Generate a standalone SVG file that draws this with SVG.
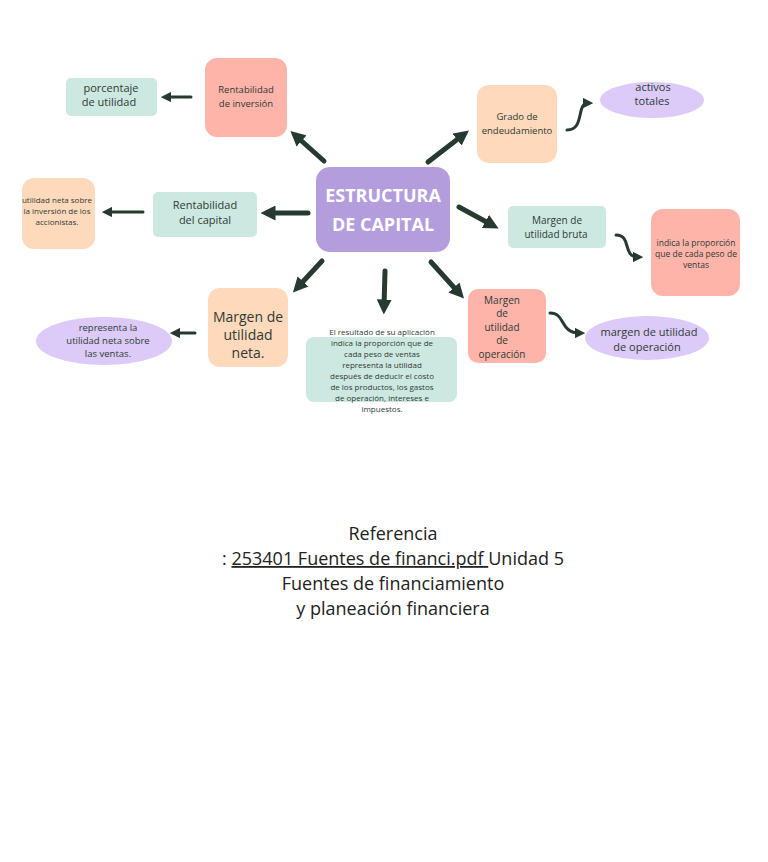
<svg xmlns="http://www.w3.org/2000/svg" width="768" height="862" viewBox="0 0 768 862">
<style>
.t{font-family:"Open Sans","DejaVu Sans",sans-serif;fill:#2e3b35;text-anchor:middle}
.ref{font-family:"Open Sans","DejaVu Sans",sans-serif;fill:#222;font-size:18px;text-anchor:middle}
.c{stroke:#263a30;stroke-width:5;fill:none;stroke-linecap:round}
.s{stroke:#263a30;stroke-width:3;fill:none;stroke-linecap:round}
.g{fill:#cde8e0}.p{fill:#ffb4aa}.o{fill:#ffd9bb}.v{fill:#dccbf8}
</style>
<defs>
<marker id="a" viewBox="0 0 10 10" refX="5" refY="5" markerWidth="3" markerHeight="3" orient="auto"><path d="M0,0L10,5L0,10z" fill="#263a30"/></marker>
<marker id="b" viewBox="0 0 10 10" refX="5" refY="5" markerWidth="3.5" markerHeight="3.5" orient="auto"><path d="M0,0L10,5L0,10z" fill="#263a30"/></marker>
</defs>
<rect width="768" height="862" fill="#fff"/>
<g id="connectors">
<path class="c" d="M324,161L296,136" marker-end="url(#a)"/>
<path class="c" d="M428,162L463,135" marker-end="url(#a)"/>
<path class="c" d="M308,213L268,213" marker-end="url(#a)"/>
<path class="c" d="M459,207L492,225" marker-end="url(#a)"/>
<path class="c" d="M322,261L298,287" marker-end="url(#a)"/>
<path class="c" d="M385,271L384,307" marker-end="url(#a)"/>
<path class="c" d="M431,262L459,293" marker-end="url(#a)"/>
<path class="s" d="M191,97L166,97" marker-end="url(#b)"/>
<path class="s" d="M143,212L107,212" marker-end="url(#b)"/>
<path class="s" d="M195,333L175,333" marker-end="url(#b)"/>
<path class="s" d="M567,130C585,130 576,103 588,103" marker-end="url(#b)"/>
<path class="s" d="M616,235C632,235 622,257 638,257" marker-end="url(#b)"/>
<path class="s" d="M550,313C566,313 559,333 580,333" marker-end="url(#b)"/>
</g>
<g id="central"><rect x="316" y="167" width="134" height="85" rx="14" fill="#b39ddc"/>
<text class="t" x="383" y="202" font-size="18" font-weight="bold" style="fill:#fff">ESTRUCTURA</text>
<text class="t" x="383" y="231" font-size="18" font-weight="bold" style="fill:#fff">DE CAPITAL</text></g>
<g id="rent-inv"><rect class="p" x="205" y="58" width="82" height="79" rx="12"/>
<text class="t" x="246" y="93" font-size="9.5">Rentabilidad</text><text class="t" x="246" y="107" font-size="9.5">de  inversión</text></g>
<g id="porcentaje"><rect class="g" x="66" y="78" width="91" height="38" rx="5"/>
<text class="t" x="111" y="92" font-size="11">porcentaje</text><text class="t" x="109" y="106" font-size="11">de utilidad</text></g>
<g id="grado"><rect class="o" x="477" y="85" width="80" height="78" rx="12"/>
<text class="t" x="517" y="120" font-size="9.5">Grado  de</text><text class="t" x="517" y="134" font-size="9.5">endeudamiento</text></g>
<g id="activos"><ellipse class="v" cx="652" cy="100" rx="52" ry="18"/>
<text class="t" x="653" y="91" font-size="11">activos</text><text class="t" x="652" y="105" font-size="11">totales</text></g>
<g id="rent-cap"><rect class="g" x="153" y="192" width="104" height="45" rx="5"/>
<text class="t" x="205" y="209" font-size="11">Rentabilidad</text><text class="t" x="205" y="224" font-size="11">del capital</text></g>
<g id="util-neta"><rect class="o" x="22" y="178" width="73" height="71" rx="12"/>
<text class="t" x="57" y="203" font-size="8">utilidad neta sobre</text><text class="t" x="57" y="214" font-size="8">la inversión de los</text><text class="t" x="57" y="225" font-size="8">accionistas.</text></g>
<g id="mub"><rect class="g" x="508" y="206" width="98" height="42" rx="5"/>
<text class="t" x="557" y="224" font-size="10">Margen  de</text><text class="t" x="556" y="238" font-size="10">utilidad  bruta</text></g>
<g id="indica"><rect class="p" x="651" y="209" width="89" height="87" rx="12"/>
<text class="t" x="696" y="246" font-size="8.5">indica la proporción</text><text class="t" x="696" y="257" font-size="8.5">que de cada peso de</text><text class="t" x="696" y="268" font-size="8.5">ventas</text></g>
<g id="mun"><rect class="o" x="208" y="288" width="80" height="79" rx="12"/>
<text class="t" x="248" y="322" font-size="14">Margen de</text><text class="t" x="248" y="340" font-size="14">utilidad</text><text class="t" x="248" y="358" font-size="14">neta.</text></g>
<g id="representa"><ellipse class="v" cx="104" cy="341" rx="68" ry="24"/>
<text class="t" x="108" y="331" font-size="9.5">representa la</text><text class="t" x="108" y="344" font-size="9.5">utilidad neta sobre</text><text class="t" x="108" y="357" font-size="9.5">las ventas.</text></g>
<g id="resultado"><rect class="g" x="306" y="337" width="151" height="65" rx="8"/>
<g class="t" font-size="8"><text x="382" y="335">El resultado de su aplicación</text><text x="382" y="346">indica la proporción que de</text><text x="382" y="357">cada peso de ventas</text><text x="382" y="368">representa la utilidad</text><text x="382" y="379">después de deducir el costo</text><text x="382" y="390">de los productos, los gastos</text><text x="382" y="401">de operación, intereses e</text><text x="382" y="412">impuestos.</text></g></g>
<g id="muo"><rect class="p" x="468" y="289" width="78" height="74" rx="10"/>
<g class="t" font-size="10"><text x="502" y="304">Margen</text><text x="502" y="317">de</text><text x="502" y="331">utilidad</text><text x="502" y="344">de</text><text x="502" y="358">operación</text></g></g>
<g id="muo2"><ellipse class="v" cx="647" cy="338" rx="62" ry="22"/>
<text class="t" x="649" y="336" font-size="11">margen de utilidad</text><text class="t" x="647" y="351" font-size="11">de operación</text></g>
<g id="referencia">
<text class="ref" x="393" y="540">Referencia</text>
<text class="ref" x="393" y="565">: <tspan text-decoration="underline">253401 Fuentes de financi.pdf </tspan>Unidad 5</text>
<text class="ref" x="393" y="590">Fuentes de financiamiento</text>
<text class="ref" x="393" y="615">y planeación financiera</text>
</g>
</svg>
